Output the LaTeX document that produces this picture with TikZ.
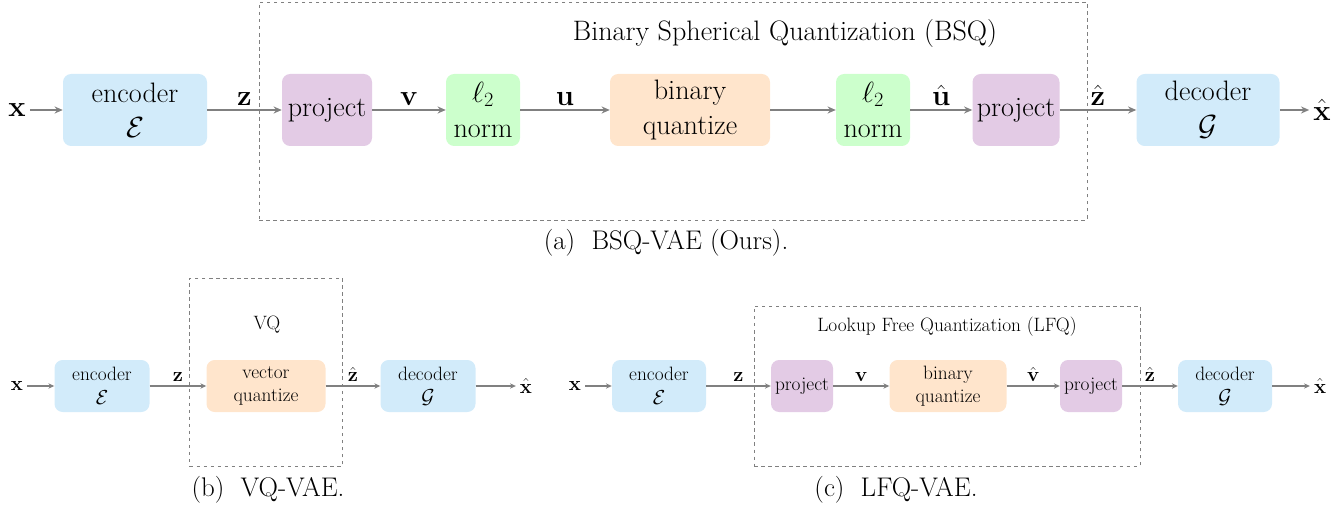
\documentclass[tikz,border=0pt]{standalone}
\usepackage{amsmath,amssymb}
\usetikzlibrary{arrows.meta}
\definecolor{cblue}{HTML}{D2EBFA}
\definecolor{cpurp}{HTML}{E3CBE5}
\definecolor{cgreen}{HTML}{CCFFCC}
\definecolor{corange}{HTML}{FFE5CC}
\begin{document}
\begin{tikzpicture}[x=0.03cm,y=-0.03cm,
  big/.style={font=\fontsize{24}{30}\selectfont},
  small/.style={font=\fontsize{16.5}{20}\selectfont},
  captxt/.style={font=\fontsize{23}{26}\selectfont},
  box/.style={rounded corners=7pt,draw=none,align=center,inner sep=0pt},
  arr/.style={-{Stealth[length=7pt,width=6pt]},draw=gray,line width=1.3pt},
  sarr/.style={-{Stealth[length=5pt,width=4.5pt]},draw=gray,line width=1pt},
  dbox/.style={draw=gray,dashed,line width=0.6pt},
  lab/.style={above,inner sep=3pt}]
\useasboundingbox (0,0) rectangle (1344,512);
% ---- (a)
\begin{scope}[big]
\node[dbox,minimum width=828*0.03cm,minimum height=218*0.03cm] (dA) at (673,111) {};
\node (tA) at (785,33) {Binary Spherical Quantization (BSQ)};
\node (xa) at (17,110) {$\mathbf{x}$};
\node[box,fill=cblue,minimum width=144*0.03cm,minimum height=72*0.03cm] (encA) at (135,110) {encoder\\$\mathcal{E}$};
\node[box,fill=cpurp,minimum width=90*0.03cm,minimum height=72*0.03cm] (p1A) at (327,110) {project};
\node[box,fill=cgreen,minimum width=74*0.03cm,minimum height=72*0.03cm] (n1A) at (483,110) {$\ell_2$\\norm};
\node[box,fill=corange,minimum width=160*0.03cm,minimum height=72*0.03cm] (bqA) at (690,110) {binary\\quantize};
\node[box,fill=cgreen,minimum width=74*0.03cm,minimum height=72*0.03cm] (n2A) at (873,110) {$\ell_2$\\norm};
\node[box,fill=cpurp,minimum width=87*0.03cm,minimum height=72*0.03cm] (p2A) at (1016,110) {project};
\node[box,fill=cblue,minimum width=143*0.03cm,minimum height=72*0.03cm] (decA) at (1208,110) {decoder\\$\mathcal{G}$};
\node (xhA) at (1322,110) {$\hat{\mathbf{x}}$};
\draw[arr] (xa) -- (encA);
\draw[arr] (encA) -- node[lab]{$\mathbf{z}$} (p1A);
\draw[arr] (p1A) -- node[lab]{$\mathbf{v}$} (n1A);
\draw[arr] (n1A) -- node[lab]{$\mathbf{u}$} (bqA);
\draw[arr] (bqA) -- (n2A);
\draw[arr] (n2A) -- node[lab]{$\hat{\mathbf{u}}$} (p2A);
\draw[arr] (p2A) -- node[lab]{$\hat{\mathbf{z}}$} (decA);
\draw[arr] (decA) -- (xhA);
\end{scope}
\node[captxt] (cA) at (666,243) {(a)\ \ BSQ-VAE (Ours).};
% ---- (b)
\begin{scope}[small]
\node[dbox,minimum width=153*0.03cm,minimum height=188*0.03cm] (dB) at (266,372) {};
\node (tB) at (267,325) {VQ};
\node (xb) at (17,386) {$\mathbf{x}$};
\node[box,fill=cblue,minimum width=95*0.03cm,minimum height=52*0.03cm] (encB) at (102,386) {encoder\\$\mathcal{E}$};
\node[box,fill=corange,minimum width=119*0.03cm,minimum height=52*0.03cm] (vqB) at (266,386) {vector\\quantize};
\node[box,fill=cblue,minimum width=95*0.03cm,minimum height=52*0.03cm] (decB) at (428,386) {decoder\\$\mathcal{G}$};
\node (xhB) at (526,386) {$\hat{\mathbf{x}}$};
\draw[sarr] (xb) -- (encB);
\draw[sarr] (encB) -- node[lab]{$\mathbf{z}$} (vqB);
\draw[sarr] (vqB) -- node[lab]{$\hat{\mathbf{z}}$} (decB);
\draw[sarr] (decB) -- (xhB);
% ---- (c)
\node[dbox,minimum width=386*0.03cm,minimum height=160*0.03cm] (dC) at (947,386) {};
\node (tC) at (947,327) {Lookup Free Quantization (LFQ)};
\node (xc) at (575,386) {$\mathbf{x}$};
\node[box,fill=cblue,minimum width=94*0.03cm,minimum height=52*0.03cm] (encC) at (659,386) {encoder\\$\mathcal{E}$};
\node[box,fill=cpurp,minimum width=62*0.03cm,minimum height=52*0.03cm] (p1C) at (802,386) {project};
\node[box,fill=corange,minimum width=117*0.03cm,minimum height=52*0.03cm] (bqC) at (948,386) {binary\\quantize};
\node[box,fill=cpurp,minimum width=62*0.03cm,minimum height=52*0.03cm] (p2C) at (1091,386) {project};
\node[box,fill=cblue,minimum width=94*0.03cm,minimum height=52*0.03cm] (decC) at (1225,386) {decoder\\$\mathcal{G}$};
\node (xhC) at (1320,386) {$\hat{\mathbf{x}}$};
\draw[sarr] (xc) -- (encC);
\draw[sarr] (encC) -- node[lab]{$\mathbf{z}$} (p1C);
\draw[sarr] (p1C) -- node[lab]{$\mathbf{v}$} (bqC);
\draw[sarr] (bqC) -- node[lab]{$\hat{\mathbf{v}}$} (p2C);
\draw[sarr] (p2C) -- node[lab]{$\hat{\mathbf{z}}$} (decC);
\draw[sarr] (decC) -- (xhC);
\end{scope}
\node[captxt] (cB) at (268,490) {(b)\ \ VQ-VAE.};
\node[captxt] (cC) at (896,490) {(c)\ \ LFQ-VAE.};
\end{tikzpicture}
\end{document}
